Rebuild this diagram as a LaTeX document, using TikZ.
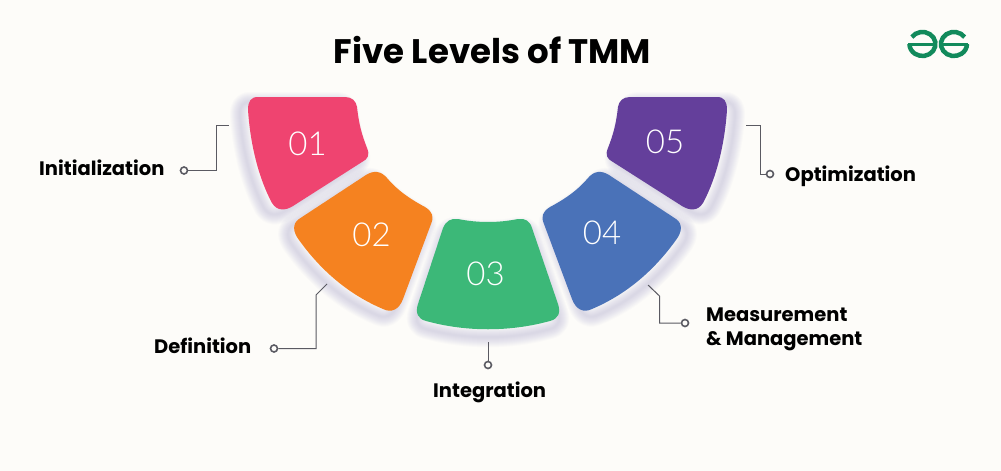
\documentclass[tikz,border=0pt]{standalone}
\usepackage{fontspec}
\setmainfont{Poppins}
\newfontfamily\numfont{Lato Light}
\definecolor{bgc}{HTML}{FDFCF9}
\definecolor{c1}{HTML}{EF4470}
\definecolor{c2}{HTML}{F58220}
\definecolor{c3}{HTML}{3CB878}
\definecolor{c4}{HTML}{4A72B8}
\definecolor{c5}{HTML}{643F9B}
\definecolor{lnc}{HTML}{5A5A62}
\definecolor{shc}{HTML}{6A68B0}
\definecolor{gfg}{HTML}{128A5C}
\tikzset{
  lab/.style={font=\bfseries\fontsize{19.5}{24}\selectfont, text=black, inner sep=0pt, align=left},
  num/.style={font=\numfont\fontsize{33}{33}\selectfont, text=white, inner sep=0pt},
  conn/.style={draw=lnc, line width=1pt},
  dotn/.style={circle, draw=lnc, line width=1.6pt, fill=bgc, minimum size=7pt, inner sep=0pt},
  logo/.style={draw=gfg, line width=4.5pt}
}
\newcommand{\shapeone}{(258,97) -- (345,97) .. controls (352,97) and (356,101) .. (357,107) .. controls (359,125) and (362,135) .. (367,148) .. controls (370,155) and (368,159) .. (362,162) -- (293,206) .. controls (285,211) and (277,211) .. (272,203) .. controls (257,175) and (250,140) .. (248,110) .. controls (248,101) and (251,97) .. (258,97) -- cycle}
\newcommand{\shapefive}{(717,97) -- (630,97) .. controls (623,97) and (619,101) .. (618,107) .. controls (616,125) and (613,135) .. (608,148) .. controls (605,155) and (607,159) .. (613,162) -- (682,206) .. controls (690,211) and (698,211) .. (703,203) .. controls (718,175) and (725,140) .. (727,110) .. controls (727,101) and (724,97) .. (717,97) -- cycle}
\newcommand{\shapetwo}{(299,219) -- (366,175) .. controls (374,170) and (381,171) .. (387,178) .. controls (397,190) and (410,199) .. (425,207) .. controls (433,212) and (434,217) .. (431,224) -- (403,299) .. controls (399,310) and (391,313) .. (383,309) .. controls (350,295) and (322,272) .. (299,240) .. controls (293,232) and (292,224) .. (299,219) -- cycle}
\newcommand{\shapefour}{(676,219) -- (609,175) .. controls (601,170) and (594,171) .. (588,178) .. controls (578,190) and (565,199) .. (550,207) .. controls (542,212) and (541,217) .. (544,224) -- (572,299) .. controls (576,310) and (584,313) .. (592,309) .. controls (625,295) and (653,272) .. (676,240) .. controls (682,232) and (683,224) .. (676,219) -- cycle}
\newcommand{\shapethree}{(443,228) .. controls (446,221) and (451,218) .. (458,219) .. controls (478,223) and (498,223) .. (518,219) .. controls (525,218) and (530,221) .. (532,228) -- (558,304) .. controls (561,313) and (558,319) .. (550,321) .. controls (510,332) and (466,332) .. (426,321) .. controls (418,319) and (415,313) .. (418,304) -- cycle}
\newcommand{\softshadow}[3]{%
  \begin{scope}[shift={(#1,#2)}]
    \foreach \w in {20,18,...,2}{
      \draw[shc, opacity=.022, line width=\w pt, line join=round] #3;
    }
  \end{scope}}
\begin{document}
\begin{tikzpicture}[x=1pt,y=-1pt]
\useasboundingbox (0,0) rectangle (1001,471);
\fill[bgc] (0,0) rectangle (1001,471);
\node[font=\bfseries\fontsize{34}{40}\selectfont, text=black, inner sep=0pt] (title) at (492.5,50) {Five Levels of TMM};

% logo
\draw[logo] (911.8,37.1) arc[start angle=-145, end angle=180, x radius=13, y radius=12];
\fill[gfg] (908,43) rectangle (936,46);
\draw[logo] (964.6,37.1) arc[start angle=-35, end angle=-360, x radius=13, y radius=12];
\fill[gfg] (940,43) rectangle (968,46);

% shadows
\softshadow{-8}{5}{\shapeone}
\softshadow{-6}{6}{\shapetwo}
\softshadow{0}{8}{\shapethree}
\softshadow{6}{6}{\shapefour}
\softshadow{8}{5}{\shapefive}

% connectors underneath
\node[dotn] (d1) at (184,170.5) {};
\node[dotn] (d2) at (274,348.5) {};
\node[dotn] (d3) at (488,365) {};
\node[dotn] (d4) at (685,323) {};
\node[dotn] (d5) at (770,174) {};
\coordinate (a1) at (229,125);
\coordinate (a2) at (327,284);
\coordinate (a3) at (488,342);
\coordinate (a4) at (648,285);
\coordinate (a5) at (746,125);
\draw[conn] (d1) -- (216,170.5) -- (216,125) -- (a1);
\draw[conn] (d2) -- (316,348.5) -- (316,295) -- (a2);
\draw[conn] (d3) -- (a3);
\draw[conn] (d4) -- (659.5,323) -- (659.5,296) -- (a4);
\draw[conn] (d5) -- (760,174) -- (760,125) -- (a5);

% shapes
\fill[c1] \shapeone;
\fill[c2] \shapetwo;
\fill[c3] \shapethree;
\fill[c4] \shapefour;
\fill[c5] \shapefive;

\node[num] (n1) at (307.5,144) {01};
\node[num] (n2) at (371.5,235) {02};
\node[num] (n3) at (485.5,273.5) {03};
\node[num] (n4) at (602,233) {04};
\node[num] (n5) at (665,141.5) {05};

\node[lab, anchor=west] (l1) at (39,168) {Initialization};
\node[lab, anchor=west] (l2) at (154,346) {Definition};
\node[lab, anchor=west] (l3) at (433,392.5) {Integration};
\node[lab, anchor=west] (l4) at (706,329.5) {Measurement\\\& Management};
\node[lab, anchor=west] (l5) at (785,176) {Optimization};
\end{tikzpicture}
\end{document}
